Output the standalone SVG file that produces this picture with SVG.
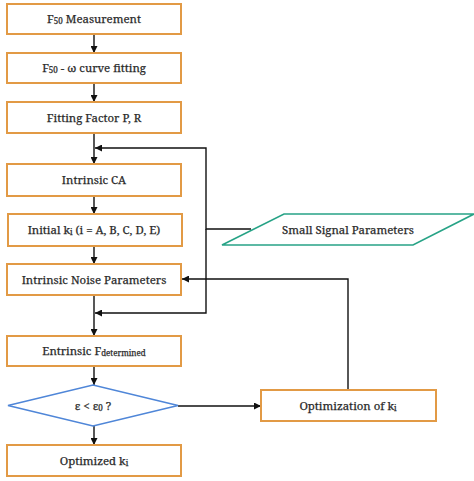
<svg xmlns="http://www.w3.org/2000/svg" width="474" height="481" viewBox="0 0 474 481">
<defs>
<marker id="ah" viewBox="0 0 10 10" refX="10" refY="5" markerWidth="7" markerHeight="7" markerUnits="userSpaceOnUse" orient="auto">
<path d="M0,0 L10,5 L0,10 z" fill="#111"/>
</marker>
<style>
.box{fill:#fff;stroke:#e29a45;stroke-width:2}
.dia{fill:#fff;stroke:#4f86d8;stroke-width:1.6}
.para{fill:#fff;stroke:#27a386;stroke-width:1.6}
.t{font-family:"Noto Serif","DejaVu Serif","Liberation Serif",serif;font-size:11.4px;fill:#2a2a2a;stroke:#2a2a2a;stroke-width:0.25;text-anchor:middle}
.s{font-size:8px}
.c{fill:none;stroke:#111;stroke-width:1.4}
</style>
</defs>
<rect width="474" height="481" fill="#fff"/>
<g id="connectors">
<line class="c" x1="94" y1="34" x2="94" y2="53" marker-end="url(#ah)"/>
<line class="c" x1="94" y1="83" x2="94" y2="102" marker-end="url(#ah)"/>
<line class="c" x1="94" y1="133" x2="94" y2="164" marker-end="url(#ah)"/>
<line class="c" x1="94" y1="196" x2="94" y2="214" marker-end="url(#ah)"/>
<line class="c" x1="94" y1="246" x2="94" y2="264" marker-end="url(#ah)"/>
<line class="c" x1="94" y1="295" x2="94" y2="336" marker-end="url(#ah)"/>
<line class="c" x1="94" y1="366" x2="94" y2="385" marker-end="url(#ah)"/>
<line class="c" x1="94" y1="426" x2="94" y2="445" marker-end="url(#ah)"/>
<polyline class="c" points="251,229 206,229 206,148 95,148" marker-end="url(#ah)"/>
<polyline class="c" points="206,229 206,313 95,313" marker-end="url(#ah)"/>
<line class="c" x1="178" y1="406" x2="261" y2="406" marker-end="url(#ah)"/>
<polyline class="c" points="348,390 348,279 182,279" marker-end="url(#ah)"/>
</g>
<g id="n1"><rect class="box" x="7" y="4" width="174" height="30"/><text class="t" x="94" y="23">F<tspan class="s" dy="1">50</tspan><tspan dy="-1"> Measurement</tspan></text></g>
<g id="n2"><rect class="box" x="7" y="53" width="174" height="30"/><text class="t" x="94" y="72">F<tspan class="s" dy="1">50</tspan><tspan dy="-1"> - ω curve fitting</tspan></text></g>
<g id="n3"><rect class="box" x="7" y="102" width="174" height="31"/><text class="t" x="94" y="121.5">Fitting Factor P, R</text></g>
<g id="n4"><rect class="box" x="7" y="164" width="174" height="32"/><text class="t" x="94" y="184">Intrinsic CA</text></g>
<g id="n5"><rect class="box" x="8" y="214" width="174" height="32"/><text class="t" x="94" y="234">Initial k<tspan class="s" dy="1">i</tspan><tspan dy="-1"> (i = A, B, C, D, E)</tspan></text></g>
<g id="n6"><rect class="box" x="7" y="264" width="174" height="31"/><text class="t" x="94" y="283.5">Intrinsic Noise Parameters</text></g>
<g id="n7"><rect class="box" x="7" y="336" width="174" height="30"/><text class="t" x="94" y="355">Entrinsic F<tspan class="s" dy="1">determined</tspan></text></g>
<g id="n8"><polygon class="dia" points="8,405.5 93,385 178,405.5 93,426"/><text class="t" x="93" y="409.5">ε &lt; ε<tspan class="s" dy="1">0</tspan><tspan dy="-1"> ?</tspan></text></g>
<g id="n9"><rect class="box" x="7" y="445" width="174" height="31"/><text class="t" x="94" y="464.5">Optimized  k<tspan class="s" dy="1">i</tspan></text></g>
<g id="n10"><rect class="box" x="261" y="390" width="175" height="31"/><text class="t" x="348" y="409.5">Optimization of  k<tspan class="s" dy="1">i</tspan></text></g>
<g id="n11"><polygon class="para" points="284,214 474,214 413,245 222,245"/><text class="t" x="348" y="233.5">Small Signal Parameters</text></g>
</svg>
